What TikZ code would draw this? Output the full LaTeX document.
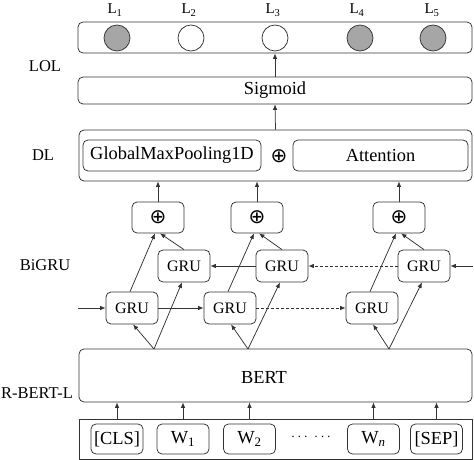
\documentclass[tikz,border=0pt]{standalone}
\usepackage{fontspec}
\setmainfont{Liberation Serif}
\newfontfamily\symfont{DejaVu Sans}
\usetikzlibrary{arrows.meta,calc}
\definecolor{lc}{HTML}{333333}
\definecolor{gfill}{HTML}{A6A6A6}
\newcommand{\bigplus}{{\symfont\fontsize{20}{22}\selectfont ⊕}}
\begin{document}
\begin{tikzpicture}[x=1pt,y=-1pt,
  ln/.style={draw=lc, line width=0.75pt},
  box/.style={ln, rounded corners=5pt, inner sep=0pt, font=\fontsize{18.4}{20}\selectfont},
  grubox/.style={box, minimum width=52pt, minimum height=32pt, font=\fontsize{16}{18}\selectfont},
  plbox/.style={box, minimum width=52pt, minimum height=31pt},
  tokbox/.style={box, minimum width=52pt, minimum height=30pt},
  arr/.style={ln, -{Latex[length=5.5pt,width=4.5pt]}},
  darr/.style={arr, densely dashed},
  side/.style={font=\fontsize{16.5}{18}\selectfont},
  lab/.style={font=\fontsize{15}{17}\selectfont, anchor=base},
  neuron/.style={circle, ln, minimum size=26pt, inner sep=0pt},
  txt/.style={font=\fontsize{18.4}{20}\selectfont}
]
\fill[white] (0,0) rectangle (474,460);
\useasboundingbox (0,0) rectangle (474,460);

% output layer
\node[box, minimum width=394pt, minimum height=31pt] (out) at (275,37.5) {};
\node[neuron, fill=gfill] (n1) at (117,38) {};
\node[neuron, fill=white] (n2) at (191,38) {};
\node[neuron, fill=white] (n3) at (275,38) {};
\node[neuron, fill=gfill] (n4) at (360,38) {};
\node[neuron, fill=gfill] (n5) at (433,38) {};
\node[lab] (l1) at (115,14) {L\textsubscript{1}};
\node[lab] (l2) at (189,14) {L\textsubscript{2}};
\node[lab] (l3) at (273,14) {L\textsubscript{3}};
\node[lab] (l4) at (357,14) {L\textsubscript{4}};
\node[lab] (l5) at (432,14) {L\textsubscript{5}};

% sigmoid
\node[box, minimum width=394pt, minimum height=27pt] (sig) at (275,90.5) {Sigmoid};

% dense layer
\node[box, minimum width=393pt, minimum height=51pt] (dl) at (275.5,155.5) {};
\node[box, minimum width=178pt, minimum height=31pt] (gmp) at (172,155.5) {GlobalMaxPooling1D};
\node[txt, inner sep=0pt] (dlplus) at (279,156) {\bigplus};
\node[box, minimum width=175pt, minimum height=31pt] (att) at (380.5,155.5) {Attention};

% BiGRU
\node[plbox] (pl1) at (158,217.5) {\bigplus};
\node[plbox] (pl2) at (257,217.5) {\bigplus};
\node[plbox] (pl3) at (399,217.5) {\bigplus};
\node[grubox] (ug1) at (184,266) {GRU};
\node[grubox] (ug2) at (282,266) {GRU};
\node[grubox] (ug3) at (424,266) {GRU};
\node[grubox] (lg1) at (132,308) {GRU};
\node[grubox] (lg2) at (230,308) {GRU};
\node[grubox] (lg3) at (372,308) {GRU};

% BERT
\node[box, minimum width=393pt, minimum height=53pt] (bert) at (275.5,375.5) {};
\node[txt] (berttxt) at (264,377) {BERT};
\coordinate (b1) at (154,349);
\coordinate (b2) at (248,349);
\coordinate (b3) at (389,349);

% tokens
\node[ln, minimum width=393pt, minimum height=40pt, inner sep=0pt] (toks) at (275.5,439) {};
\node[tokbox] (t1) at (117,439) {[CLS]};
\node[tokbox] (t2) at (183,439) {W\textsubscript{1}};
\node[tokbox] (t3) at (249.5,439) {W\textsubscript{2}};
\node[tokbox] (t4) at (373.5,439) {W\textsubscript{\textit{n}}};
\node[tokbox] (t5) at (436.5,439) {[SEP]};
\node[font=\fontsize{15}{17}\selectfont] (dots) at (311,437) {$\cdots\;\cdots$};

% side labels
\node[side] (lol) at (45,66) {LOL};
\node[side] (dlab) at (43,155) {DL};
\node[side] (bigru) at (45,265) {BiGRU};
\node[side] (rbl) at (37,393) {R-BERT-L};

% connectors
\draw[arr] (sig.north) -- (out.south);
\draw[arr] (dl.north) -- (sig.south);
\foreach \i in {1,2,3}{
  \draw[arr] (pl\i.north) -- (pl\i.north |- dl.south);
  \draw[arr] ($(lg\i.north)+(-2,0)$) -- ($(pl\i.south)+(-3,0)$);
  \draw[arr] (ug\i.north) -- ($(pl\i.south)+(2,0)$);
  \draw[arr] (b\i) -- ($(lg\i.south)+(1,0)$);
  \draw[arr] (b\i) -- ($(ug\i.south)+(-2,0)$);
}
\coordinate (fin) at (78,308);
\coordinate (bin) at (473,266);
\draw[arr] (fin) -- (lg1.west);
\draw[arr] (lg1.east) -- (lg2.west);
\draw[darr] (lg2.east) -- (lg3.west);
\draw[arr] (bin) -- (ug3.east);
\draw[darr] (ug3.west) -- (ug2.east);
\draw[arr] (ug2.west) -- (ug1.east);
\foreach \i in {1,...,5}{
  \draw[arr] (t\i |- toks.north) -- (t\i |- bert.south);
}
\end{tikzpicture}
\end{document}
